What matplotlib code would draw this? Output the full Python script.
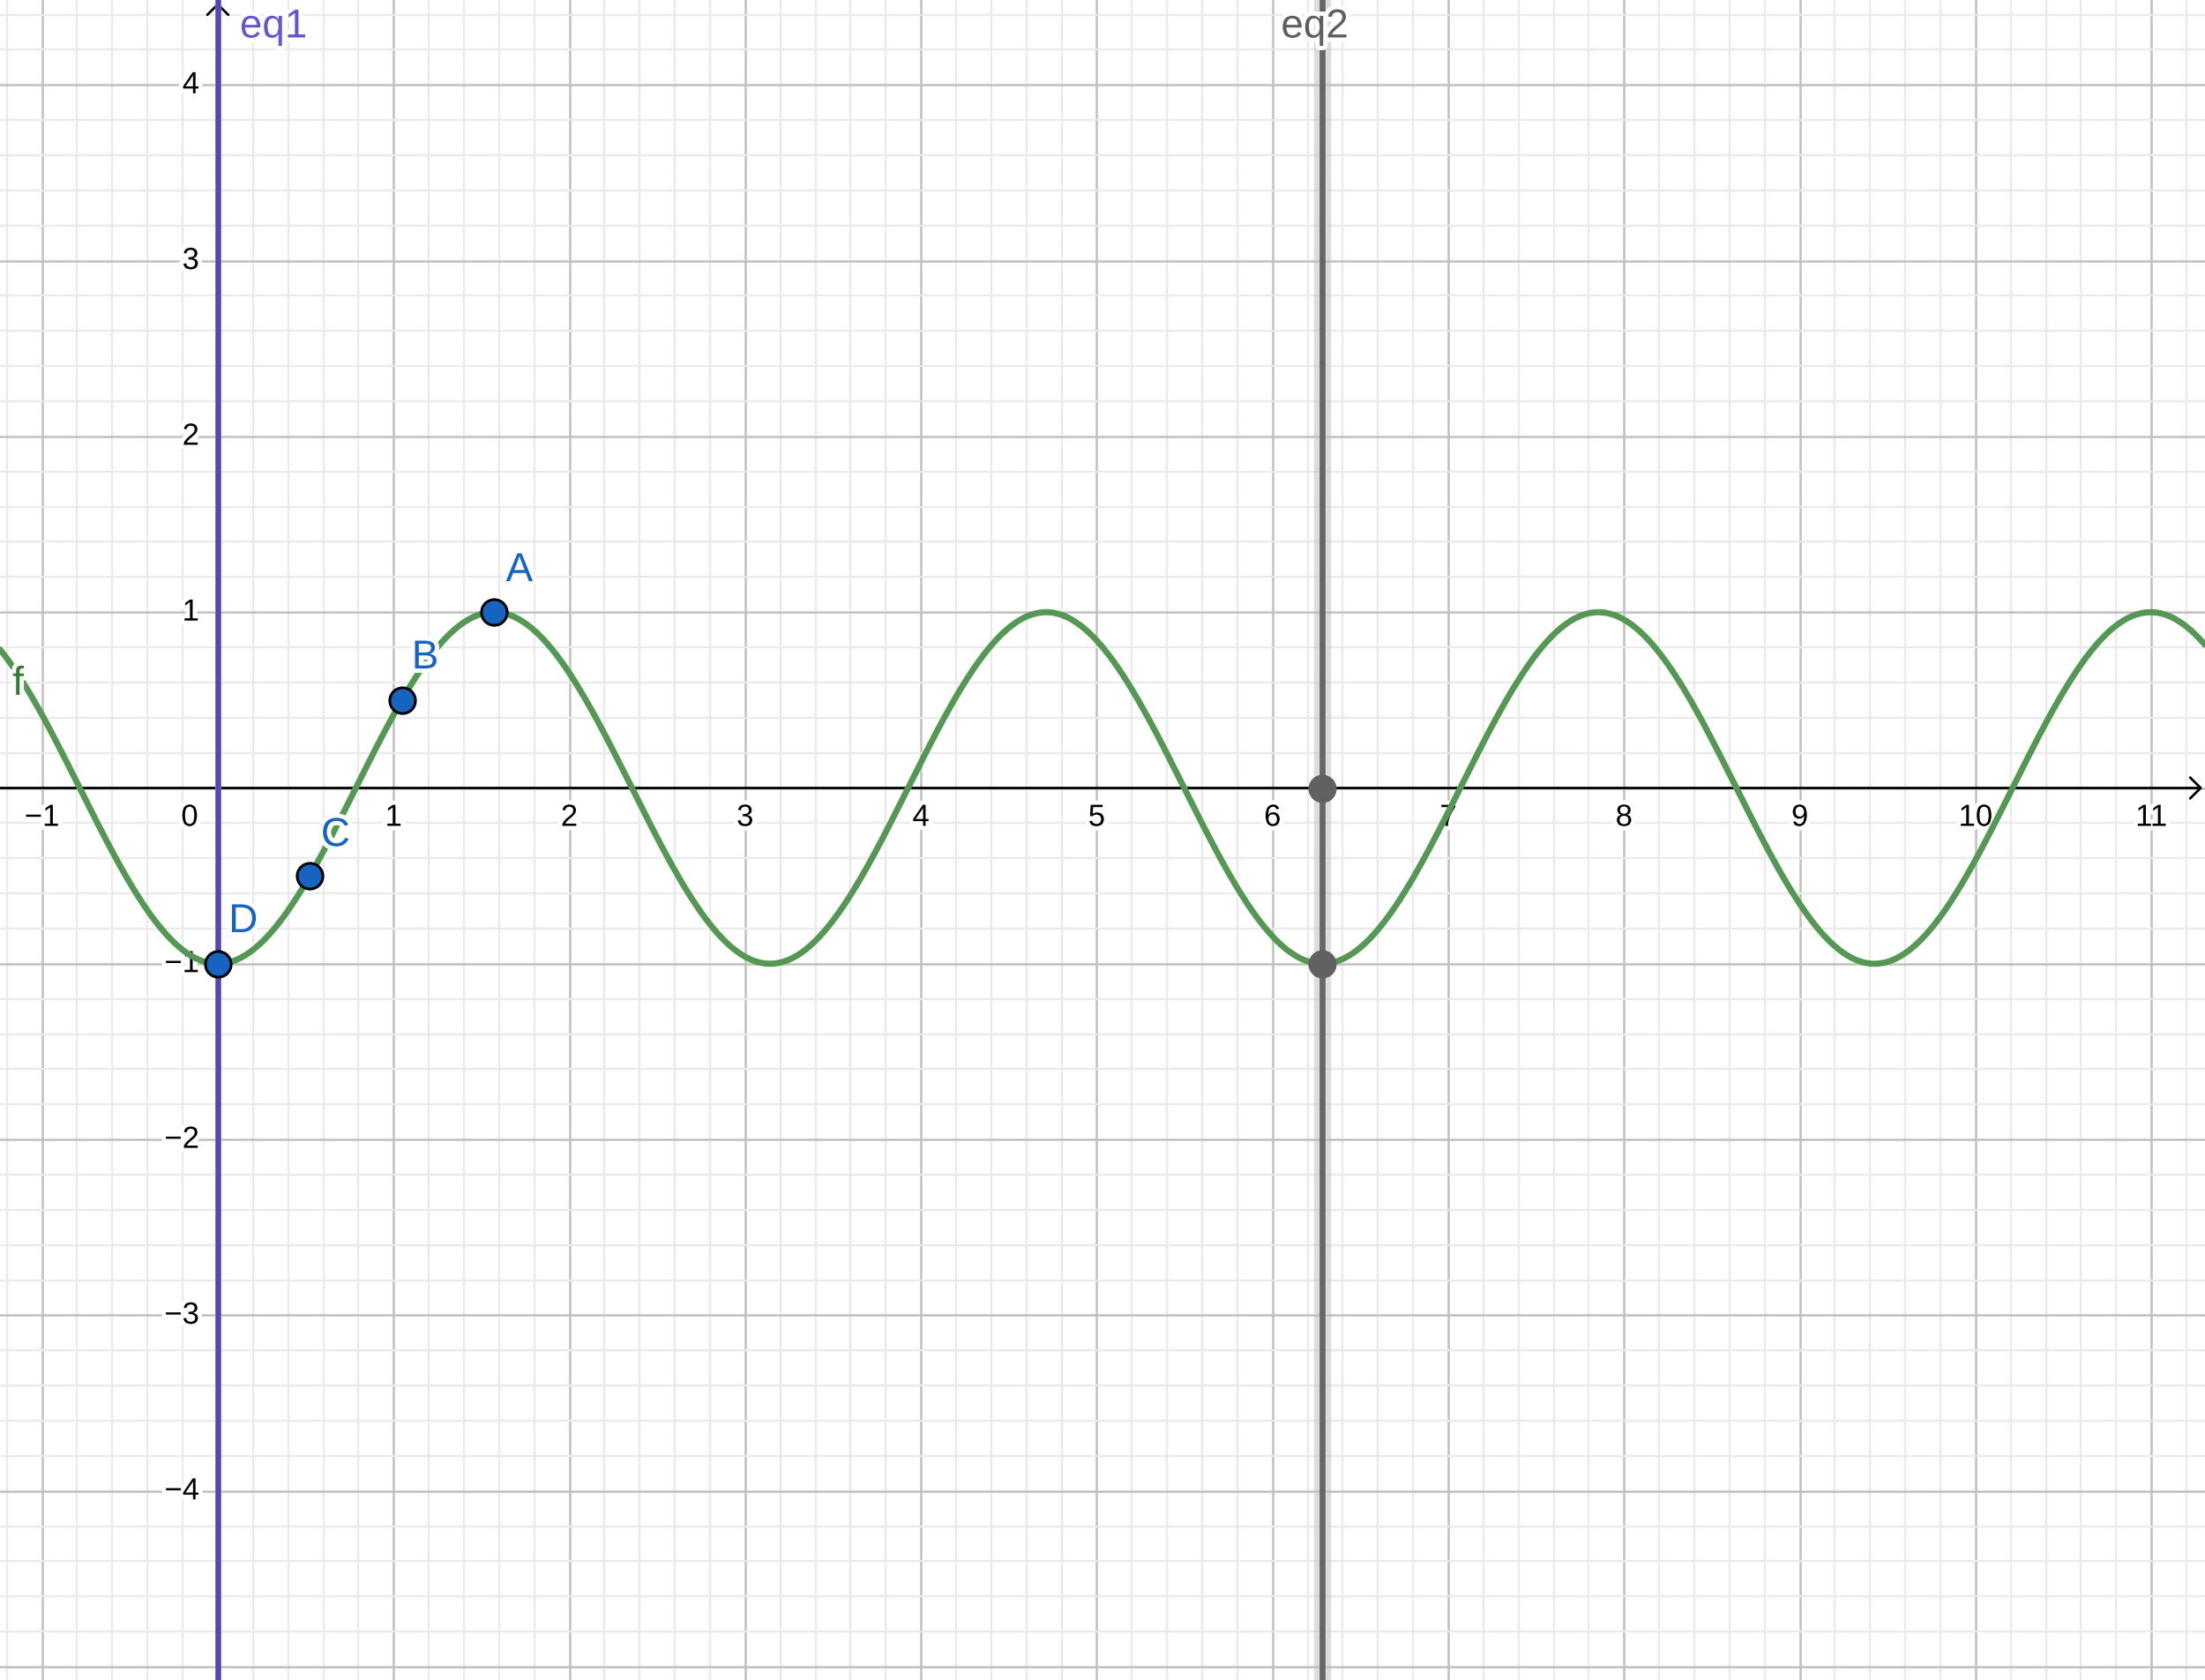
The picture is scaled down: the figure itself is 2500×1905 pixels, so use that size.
import numpy as np
import matplotlib
matplotlib.use("Agg")
import matplotlib.pyplot as plt
import matplotlib.patheffects as pe

plt.rcParams['font.family'] = ['Liberation Sans', 'DejaVu Sans']

# view window
X_MIN, X_MAX = -1.239, 11.305
Y_MIN, Y_MAX = -5.075, 4.488

# function f: minimum at x=0, maximum 1, period pi
f_amp = 1.0
f_period = np.pi

# labelled points on f
point_names = ["A", "B", "C", "D"]
point_x = [1.571, 1.047, 0.524, 0.0]
point_y = [1.0, 0.5, -0.5, -1.0]
label_x = [1.716, 1.18, 0.67, 0.145]
label_y = [1.237, 0.74, -0.27, -0.76]

# vertical lines
eq1_x = 0.0
eq2_x = 6.283
eq2_pts_y = [0.0, -1.0]

x_ticks = [-1, 1, 2, 3, 4, 5, 6, 7, 8, 9, 10, 11]
y_ticks = [-4, -3, -2, -1, 1, 2, 3, 4]

halo = [pe.withStroke(linewidth=7, foreground="white")]

fig = plt.figure(figsize=(25, 19.06), dpi=100)
ax = fig.add_axes([0, 0, 1, 1])
ax.set_xlim(X_MIN, X_MAX)
ax.set_ylim(Y_MIN, Y_MAX)

# grid
ax.set_xticks(np.arange(-1, 12, 1))
ax.set_yticks(np.arange(-5, 5, 1))
ax.set_xticks(np.round(np.arange(-1.2, 11.4, 0.2), 1), minor=True)
ax.set_yticks(np.round(np.arange(-5.0, 4.6, 0.2), 1), minor=True)
ax.grid(which="minor", color="#eaeaea", lw=1.6, zorder=0)
ax.grid(which="major", color="#c0c0c0", lw=1.8, zorder=0)
ax.tick_params(which="both", length=0, labelbottom=False, labelleft=False)
for s in ax.spines.values():
    s.set_visible(False)
ax.set_axisbelow(True)

# axes with arrows
arrow = dict(arrowstyle="->,head_length=0.45,head_width=0.45", lw=2,
             color="black", mutation_scale=19, shrinkA=0, shrinkB=0)
ax.annotate("", xy=(11.29, 0), xytext=(X_MIN, 0), arrowprops=arrow, zorder=2)
ax.annotate("", xy=(0, 4.468), xytext=(0, Y_MIN), arrowprops=arrow, zorder=2)

# tick labels
for t in x_ticks:
    ax.text(t, -0.168, str(t).replace("-", "\u2212"), fontsize=25, ha="center",
            va="center", color="black", path_effects=halo, zorder=3)
ax.text(-0.16, -0.168, "0", fontsize=25, ha="center", va="center",
        color="black", path_effects=halo, zorder=3)
for t in y_ticks:
    ax.text(-0.105, t, str(t).replace("-", "\u2212"), fontsize=25, ha="right",
            va="center", color="black", path_effects=halo, zorder=3)

# eq2
ax.axvline(eq2_x, color="#bdbdbd", lw=14, alpha=0.5, zorder=4)
ax.axvline(eq2_x, color="#666666", lw=4.8, zorder=4)

# curve f
xs = np.linspace(X_MIN, X_MAX, 2000)
ax.plot(xs, -f_amp * np.cos(2 * np.pi * xs / f_period), color="#549854",
        lw=5, zorder=5, solid_capstyle="round")

# eq1
ax.axvline(eq1_x, color="#7a70cc", lw=5, zorder=6)
ax.axvline(eq1_x, color="#5346b5", lw=3.6, zorder=6)

# points
ax.plot([eq2_x] * len(eq2_pts_y), eq2_pts_y, "o", ms=22, color="#616161",
        mec="#616161", zorder=7)
ax.plot(point_x, point_y, "o", ms=21, color="#1565c0", mec="black",
        mew=2.2, zorder=8)

# labels
for name, lx, ly in zip(point_names, label_x, label_y):
    ax.text(lx, ly, name, fontsize=33, ha="center", va="center",
            color="#1565c0", path_effects=halo, zorder=9)
ax.text(0.125, 4.33, "eq1", fontsize=33, ha="left", va="center",
        color="#6457d0", path_effects=halo, zorder=9)
ax.text(6.24, 4.33, "eq2", fontsize=33, ha="center", va="center",
        color="#5e5e5e", path_effects=halo, zorder=9)
ax.text(-1.136, 0.59, "f", fontsize=33, ha="center", va="center",
        color="#2e7d32", path_effects=halo, zorder=9)

fig.savefig("out.png", dpi=100)
